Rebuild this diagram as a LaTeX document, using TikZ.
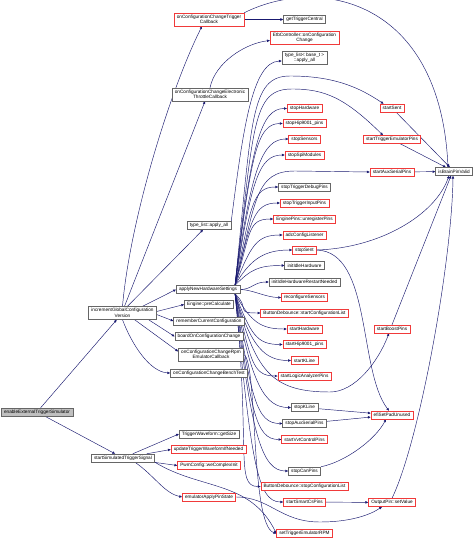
\documentclass[tikz,border=0pt]{standalone}
\usepackage{fontspec}
\setmainfont{Liberation Sans}
\usetikzlibrary{arrows.meta,calc}
\definecolor{edgec}{HTML}{191970}
\definecolor{rbord}{HTML}{F03A3A}
\definecolor{gbord}{HTML}{666666}
\definecolor{gfill}{HTML}{BFBFBF}
\pgfdeclarelayer{bg}
\pgfsetlayers{bg,main}
\begin{document}
\begin{tikzpicture}[x=1pt,y=-1pt,
  nb/.style={draw,line width=0.45pt,fill=white,inner xsep=2.8pt,inner ysep=0.6pt,minimum height=8pt,align=center,font=\fontsize{4.7}{5.4}\selectfont},
  gb/.style={nb,draw=gbord},
  rb/.style={nb,draw=rbord},
  two/.style={minimum height=13pt},
  e/.style={draw=edgec,line width=0.45pt,-{Triangle[length=2.8pt,width=2.4pt]}}]
\useasboundingbox (0,0) rectangle (474,540);
% left
\node[gb,fill=gfill] (enable) at (37,412) {enableExternalTriggerSimulator};
\node[gb,two] (incr) at (122.5,313) {incrementGlobalConfiguration\\Version};
\node[gb] (startSim) at (123,458) {startSimulatedTriggerSignal};
% middle column
\node[rb,two] (trigCb) at (209,19.5) {onConfigurationChangeTrigger\\Callback};
\node[gb,two] (etcb) at (210,94.5) {onConfigurationChangeElectronic\\ThrottleCallback};
\node[gb] (tlapply) at (209,225.5) {type\_list::apply\_all};
\node[gb] (applyNHS) at (208,289.5) {applyNewHardwareSettings};
\node[gb] (precalc) at (209,304.5) {Engine::preCalculate};
\node[gb] (remember) at (209,321) {rememberCurrentConfiguration};
\node[gb] (board) at (209,336.5) {boardOnConfigurationChange};
\node[gb,two] (rpmCb) at (211,354.5) {onConfigurationChangeRpm\\EmulatorCallback};
\node[gb] (bench) at (209,373) {onConfigurationChangeBenchTest};
\node[gb] (getSize) at (209,434) {TriggerWaveform::getSize};
\node[rb] (updTW) at (208.5,449.5) {updateTriggerWaveformIfNeeded};
\node[rb] (pwm) at (209,465.5) {PwmConfig::weComplexInit};
\node[rb] (emuPin) at (209,497) {emulatorApplyPinState};
% right-middle column
\node[gb] (getTC) at (304.5,19.5) {getTriggerCentral};
\node[rb,two] (etb) at (304.5,37.5) {EtbController::onConfiguration\\Change};
\node[gb,two] (tlbase) at (304.5,58) {type\_list< base\_t >\\::apply\_all};
\node[rb] (stopHW) at (304.5,108.5) {stopHardware};
\node[rb] (stopHip) at (304.5,123.5) {stopHip9001\_pins};
\node[rb] (stopSens) at (304.5,139) {stopSensors};
\node[rb] (stopSpi) at (304.5,155) {stopSpiModules};
\node[gb] (stopTDP) at (304.5,187) {stopTriggerDebugPins};
\node[rb] (stopTIP) at (304.5,203) {stopTriggerInputPins};
\node[rb] (unreg) at (304.5,219) {EnginePins::unregisterPins};
\node[rb] (adc) at (304.5,235) {adcConfigListener};
\node[rb] (stopSent) at (304.5,250) {stopSent};
\node[gb] (initIdle) at (304.5,265.5) {initIdleHardware};
\node[gb] (initIdleRN) at (304.5,282) {initIdleHardwareRestartNeeded};
\node[rb] (reconf) at (304.5,297.5) {reconfigureSensors};
\node[rb] (bdStart) at (304.5,313) {ButtonDebounce::startConfigurationList};
\node[rb] (startHW) at (304.5,329) {startHardware};
\node[rb] (startHip) at (304.5,344.5) {startHip9001\_pins};
\node[rb] (startKLine) at (304.5,360.5) {startKLine};
\node[rb] (startLA) at (304.5,376) {startLogicAnalyzerPins};
\node[gb] (stopKLine) at (304.5,407.5) {stopKLine};
\node[gb] (stopAux) at (304.5,423.5) {stopAuxSerialPins};
\node[rb] (startVvt) at (304.5,439.5) {startVvtControlPins};
\node[gb] (stopCan) at (304.5,471) {stopCanPins};
\node[rb] (bdStop) at (304.5,486.5) {ButtonDebounce::stopConfigurationList};
\node[rb] (startSmart) at (304.5,502) {startSmartCsPins};
\node[rb] (setRPM) at (304.5,533.5) {setTriggerEmulatorRPM};
% right column
\node[rb] (startSentR) at (392,108) {startSent};
\node[rb] (startTEP) at (392,139.5) {startTriggerEmulatorPins};
\node[rb] (startAuxR) at (392,172) {startAuxSerialPins};
\node[rb] (startBoost) at (392,329) {startBoostPins};
\node[rb] (efiUnused) at (392,415) {efiSetPadUnused};
\node[rb] (setValue) at (392,502.5) {OutputPin::setValue};
\node[gb] (isBPV) at (454,171.5) {isBrainPinValid};

\begin{pgfonlayer}{bg}
\fill[white] (0,0) rectangle (474,540);
% enable
\draw[e] (enable) -- (incr);
\draw[e] (enable) -- (startSim);
% incr
\draw[e] (incr.north) .. controls (130,220) and (170,90) .. ([xshift=-7pt]trigCb.south);
\draw[e] ([xshift=2pt]incr.north) -- ([xshift=-5pt]etcb.south);
\draw[e] ([xshift=5pt]incr.north) -- ([xshift=-6pt]tlapply.south);
\draw[e] ([xshift=20pt]incr.north) -- (applyNHS.west);
\draw[e] ([yshift=1.5pt]incr.east) -- (precalc.west);
\draw[e] ([yshift=-1.5pt]incr.east) -- (remember.west);
\draw[e] ([xshift=-8pt]incr.south east) -- (board.west);
\draw[e] ([xshift=-22pt]incr.south east) -- ([yshift=3pt]rpmCb.west);
\draw[e] (incr.south) .. controls (132,345) and (150,372) .. (bench.west);
% trigger callback
\draw[e] (trigCb) -- (getTC);
\draw[e] (trigCb.north east) .. controls (320,-25) and (440,0) .. ([xshift=-6pt]isBPV.north);
% etb / type list
\draw[e] (etcb.north) .. controls +(5,-25) and +(-25,3) .. ([yshift=-3pt]etb.west);
\draw[e] (tlapply.north east) .. controls (243,130) and (252,62) .. ([yshift=-3pt]tlbase.west);
% applyNewHardwareSettings upward
\draw[e] ([xshift=-5pt]applyNHS.north east) .. controls (252,120) and (250,76) .. (290,76) .. controls (335,76) and (360,88) .. ([xshift=4pt]startSentR.north west);
\draw[e] ([xshift=-5pt]applyNHS.north east) .. controls (254,125) and (252,89) .. (292,89) .. controls (325,89) and (345,98) .. ([xshift=-9pt]startTEP.north);
\draw[e] ([xshift=-5pt]applyNHS.north east) .. controls +(16,-142) and +(-26,0) .. (stopHW.west);
\draw[e] ([xshift=-5pt]applyNHS.north east) .. controls +(16,-130) and +(-26,0) .. (stopHip.west);
\draw[e] ([xshift=-5pt]applyNHS.north east) .. controls +(16,-117) and +(-26,0) .. (stopSens.west);
\draw[e] ([xshift=-5pt]applyNHS.north east) .. controls +(16,-104) and +(-26,0) .. (stopSpi.west);
\draw[e] ([xshift=-5pt]applyNHS.north east) .. controls (256,200) and (255,171) .. (295,171) -- (startAuxR.west);
\draw[e] ([xshift=-5pt]applyNHS.north east) .. controls +(16,-79) and +(-26,0) .. (stopTDP.west);
\draw[e] ([xshift=-5pt]applyNHS.north east) .. controls +(16,-66) and +(-26,0) .. (stopTIP.west);
\draw[e] ([xshift=-5pt]applyNHS.north east) .. controls +(16,-53) and +(-26,0) .. (unreg.west);
\draw[e] ([xshift=-5pt]applyNHS.north east) .. controls +(16,-40) and +(-26,0) .. (adc.west);
\draw[e] ([xshift=-5pt]applyNHS.north east) .. controls +(16,-28) and +(-26,0) .. (stopSent.west);
\draw[e] ([xshift=-5pt]applyNHS.north east) .. controls +(16,-16) and +(-26,0) .. (initIdle.west);
\draw[e] (applyNHS.east) .. controls +(12,0) and +(-15,0) .. (initIdleRN.west);
\draw[e] (applyNHS.east) .. controls +(12,0) and +(-15,0) .. (reconf.west);
% applyNewHardwareSettings downward
\draw[e] ([xshift=-5pt]applyNHS.south east) .. controls +(16,15.6) and +(-26,0) .. (bdStart.west);
\draw[e] ([xshift=-5pt]applyNHS.south east) .. controls +(16,28.4) and +(-26,0) .. (startHW.west);
\draw[e] ([xshift=-5pt]applyNHS.south east) .. controls +(16,40.8) and +(-26,0) .. (startHip.west);
\draw[e] ([xshift=-5pt]applyNHS.south east) .. controls +(16,53.6) and +(-26,0) .. (startKLine.west);
\draw[e] ([xshift=-5pt]applyNHS.south east) .. controls +(16,66) and +(-26,0) .. (startLA.west);
\draw[e] ([xshift=-5pt]applyNHS.south east) .. controls (255,370) and (270,392) .. (330,392) .. controls (355,392) and (378,362) .. ([xshift=-3pt]startBoost.south);
\draw[e] ([xshift=-5pt]applyNHS.south east) .. controls +(16,91) and +(-26,0) .. (stopKLine.west);
\draw[e] ([xshift=-5pt]applyNHS.south east) .. controls +(16,104) and +(-26,0) .. (stopAux.west);
\draw[e] ([xshift=-5pt]applyNHS.south east) .. controls +(16,117) and +(-26,0) .. (startVvt.west);
\draw[e] ([xshift=-5pt]applyNHS.south east) .. controls +(16,142) and +(-26,0) .. (stopCan.west);
\draw[e] ([xshift=-5pt]applyNHS.south east) .. controls +(16,154) and +(-26,0) .. (bdStop.west);
\draw[e] ([xshift=-5pt]applyNHS.south east) .. controls +(16,167) and +(-26,0) .. (startSmart.west);
% right side
\draw[e] (startSentR) -- (isBPV);
\draw[e] (startTEP) -- (isBPV);
\draw[e] (startAuxR) -- (isBPV);
\draw[e] (startBoost.north) -- ([xshift=-3pt]isBPV.south);
\draw[e] (stopSent.east) .. controls (380,248) and (435,215) .. ([xshift=-5pt]isBPV.south);
\draw[e] (stopSent.east) .. controls (372,252) and (358,370) .. ([xshift=-3pt]efiUnused.north);
\draw[e] (setValue.north) .. controls (420,440) and (452,260) .. ([xshift=-1pt]isBPV.south);
\draw[e] (stopKLine) -- (efiUnused);
\draw[e] (stopAux) -- (efiUnused);
\draw[e] (stopCan.north east) .. controls (345,462) and (375,440) .. ([xshift=-6pt]efiUnused.south);
\draw[e] (startSmart) -- (setValue);
\draw[e] (emuPin.east) .. controls (270,497) and (280,522) .. (320,522) .. controls (350,522) and (370,515) .. ([xshift=-10pt]setValue.south);
% startSimulatedTriggerSignal
\draw[e] (startSim) -- (getSize.west);
\draw[e] (startSim) -- (updTW.west);
\draw[e] (startSim) -- (pwm.west);
\draw[e] ([xshift=12pt]startSim.south) .. controls +(20,14) and +(-18,-4) .. (emuPin.west);
\draw[e] (startSim.south east) .. controls (200,490) and (250,480) .. (setRPM.west);
\draw[e] (rpmCb.east) .. controls (258,362) and (250,525) .. (setRPM.west);
\end{pgfonlayer}
\end{tikzpicture}
\end{document}
